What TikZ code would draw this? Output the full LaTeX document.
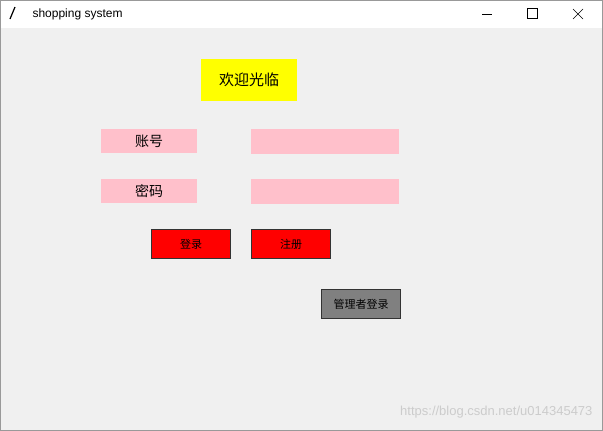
\documentclass[tikz,border=0pt]{standalone}
\usepackage{fontspec}
\setmainfont{Liberation Sans}
\newfontfamily\cjk{Noto Sans CJK SC}
\definecolor{winbg}{HTML}{F0F0F0}
\definecolor{tkpink}{HTML}{FFC0CB}
\definecolor{tkyellow}{HTML}{FFFF00}
\tikzset{
  lbl/.style={fill=tkpink, minimum width=96pt, minimum height=24pt, inner sep=0pt, font=\cjk\fontsize{14}{14}\selectfont},
  entrybox/.style={fill=tkpink, minimum width=148pt, minimum height=25pt, inner sep=0pt},
  btn/.style={draw=black!80, line width=1pt, minimum width=79pt, minimum height=29pt, inner sep=0pt, font=\cjk\fontsize{11}{11}\selectfont}
}
\begin{document}
\begin{tikzpicture}[x=1pt,y=-1pt]
  \useasboundingbox (0,0) rectangle (603,431);
  % window
  \fill[winbg] (0,0) rectangle (603,431);
  \fill[white] (0,0) rectangle (603,28);
  \draw[black!40] (0.5,0.5) rectangle (602.5,430.5);
  \node[anchor=west, font=\fontsize{12}{12}\selectfont] (title) at (29,14) {shopping system};
  \draw[line width=1.2pt] (10,19) -- (15,7);
  % window controls
  \draw (482,14) -- (492,14);
  \draw (527.5,8.5) rectangle (537.5,18.5);
  \draw (573,9) -- (583,19) (583,9) -- (573,19);
  % widgets
  \node[fill=tkyellow, minimum width=96pt, minimum height=42pt, inner sep=0pt, font=\cjk\fontsize{15}{15}\selectfont] (welcome) at (249,80) {欢迎光临};
  \node[lbl] (acct) at (149,141) {账号};
  \node[lbl] (pwd) at (149,191) {密码};
  \node[entrybox] (acctin) at (325,141.5) {};
  \node[entrybox] (pwdin) at (325,191.5) {};
  \node[btn, fill=red] (login) at (191,244) {登录};
  \node[btn, fill=red] (reg) at (291,244) {注册};
  \node[btn, fill=gray] (admin) at (361,304) {管理者登录};
  % watermark
  \node[anchor=east, text=black!20, font=\fontsize{13}{13}\selectfont] (mark) at (596,412) {https://blog.csdn.net/u014345473};
\end{tikzpicture}
\end{document}
